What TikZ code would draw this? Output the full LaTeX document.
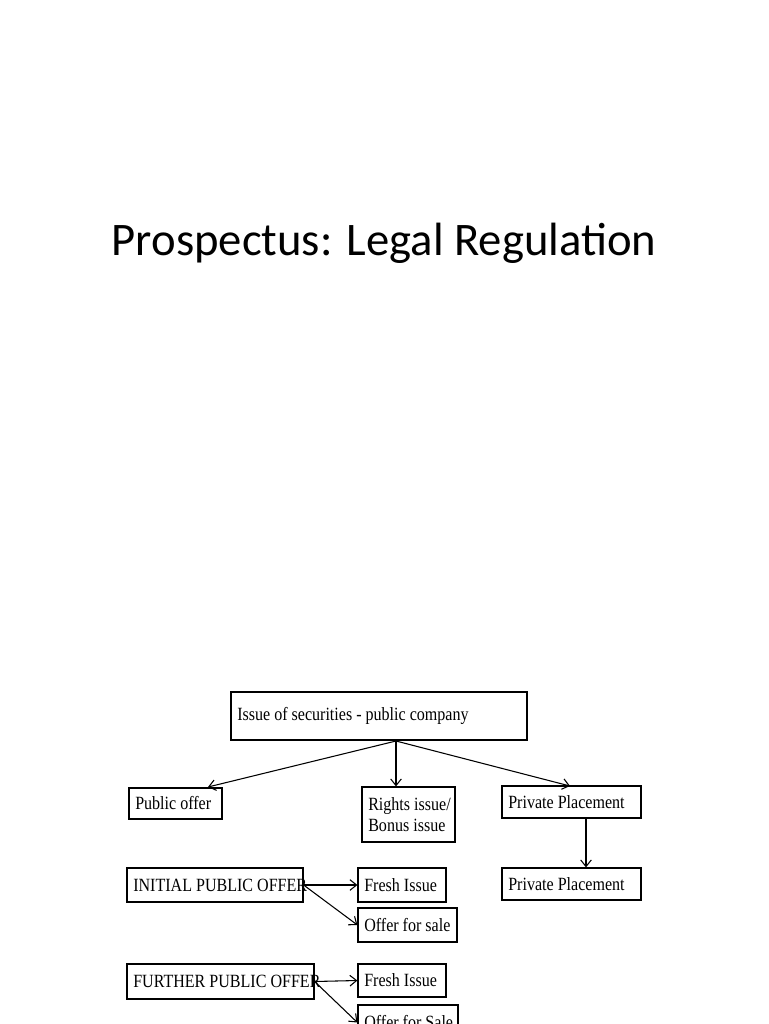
\documentclass[tikz,border=0pt]{standalone}
\usepackage{fontspec}
\usetikzlibrary{arrows.meta}
\setmainfont{Liberation Serif}
\newfontfamily\boxfont[FakeStretch=0.86]{Liberation Serif}
\newfontfamily\titlefont{Carlito}
\begin{document}
\begin{tikzpicture}[x=0.75pt,y=-0.75pt,
 bx/.style={draw,line width=0.9pt,inner sep=0pt},
 tx/.style={font=\boxfont\fontsize{14}{16}\selectfont,anchor=west,align=left,inner sep=0pt},
 ar/.style={-{Straight Barb[length=5pt,width=8pt]},line width=0.8pt}]
\useasboundingbox (0,0) rectangle (768,1024);
\clip (0,0) rectangle (768,1024);
\node[font=\titlefont\fontsize{35}{40}\selectfont] (title) at (384,243) {Prospectus: Legal Regulation};
\newcommand\bxn[6]{\node[bx,minimum width={(#4-#2)*0.75pt},minimum height={(#5-#3)*0.75pt}] (#1) at ({(#2+#4)/2},{(#3+#5)/2}) {};
\node[tx] (#1t) at ({#2+6},{(#3+#5)/2}) {#6};}
\bxn{top}{231}{692}{527}{740}{Issue of securities - public company}
\bxn{po}{129}{788}{222}{819}{Public offer}
\bxn{ri}{362}{787}{455}{842}{Rights issue/\\Bonus issue}
\bxn{pp1}{502}{786}{641}{818}{Private Placement}
\bxn{pp2}{502}{868}{641}{900}{Private Placement}
\bxn{ipo}{127}{868}{303}{902}{INITIAL PUBLIC OFFER}
\bxn{f1}{358}{868}{446}{902}{Fresh Issue}
\bxn{o1}{358}{908}{457}{942}{Offer for sale}
\bxn{fpo}{127}{964}{314}{999}{FURTHER PUBLIC OFFER}
\bxn{f2}{358}{964}{446}{997}{Fresh Issue}
\bxn{o2}{358}{1005}{458}{1040}{Offer for Sale}
\coordinate (s) at (396,741);
\draw[ar] (s) -- (208,787);
\draw[ar] (s) -- (ri.north -| s);
\draw[ar] (s) -- (570,786);
\draw[ar] (pp1.south -| 586,0) -- (pp2.north -| 586,0);
\draw[ar] (ipo.east) -- (f1.west);
\draw[ar] (ipo.east) -- (o1.west);
\draw[ar] (fpo.east) -- (f2.west);
\draw[ar] (fpo.east) -- (o2.west);
\end{tikzpicture}
\end{document}
